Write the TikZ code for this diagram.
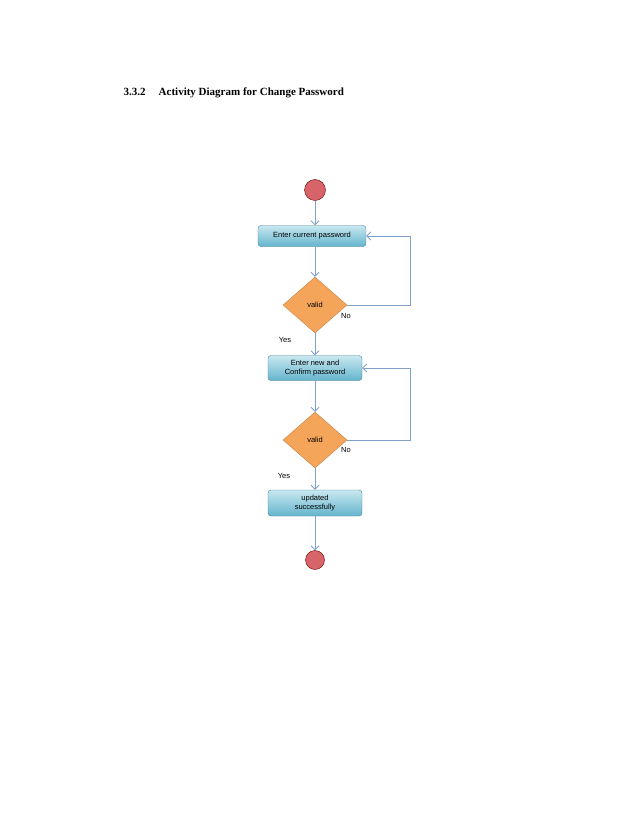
\documentclass[tikz,border=0pt]{standalone}
\usepackage{fontspec}
\setmainfont{Liberation Serif}
\newfontfamily\diag{Liberation Sans}
\usetikzlibrary{shapes.geometric,arrows.meta}
\definecolor{lineblue}{RGB}{130,160,200}
\definecolor{boxtop}{RGB}{200,232,240}
\definecolor{boxbot}{RGB}{100,180,205}
\definecolor{boxedge}{RGB}{70,130,150}
\definecolor{termfill}{RGB}{215,100,105}
\definecolor{decfill}{RGB}{245,165,90}
\begin{document}
\begin{tikzpicture}[x=1pt,y=-1pt,
  act/.style={draw=boxedge,rounded corners=3pt,top color=boxtop,bottom color=boxbot,font=\diag\fontsize{7.5}{8.5}\selectfont,align=center,inner sep=1pt},
  dec/.style={diamond,draw=decfill!80!black,fill=decfill,font=\diag\fontsize{7.5}{8.5}\selectfont,minimum width=64pt,minimum height=56pt,inner sep=0pt},
  term/.style={circle,draw=red!40!black,fill=termfill,minimum size=21pt,inner sep=0pt},
  flow/.style={draw=lineblue,thick,-{Straight Barb[length=4pt,width=8pt]}},
  lbl/.style={font=\diag\fontsize{7.5}{8.5}\selectfont}]
\useasboundingbox (0,0) rectangle (638,826);
\node[anchor=west,font=\bfseries\fontsize{11}{13}\selectfont] (title) at (120,93) {3.3.2\hspace{1.2em}Activity Diagram for Change Password};
\node[term] (start) at (315,190) {};
\node[act,minimum width=108pt,minimum height=21pt] (b1) at (312,236) {Enter current password};
\node[dec] (d1) at (315,305) {valid};
\node[act,minimum width=94pt,minimum height=25pt] (b2) at (315,368) {Enter new and\\Confirm password};
\node[dec] (d2) at (315,440) {valid};
\node[act,minimum width=94pt,minimum height=26pt] (b3) at (315,503) {updated\\successfully};
\node[term,minimum size=19pt] (end) at (315,560) {};
\draw[flow] (start) -- (start|-b1.north);
\draw[flow] (b1.south-|d1) -- (d1.north);
\draw[flow] (d1.south) -- (d1|-b2.north);
\draw[flow] (b2) -- (d2.north);
\draw[flow] (d2.south) -- (d2|-b3.north);
\draw[flow] (b3) -- (end);
\draw[flow] (d1.east) -- (410,305) |- (b1.east);
\draw[flow] (d2.east) -- (410,440) |- (b2.east);
\node[lbl] (n1) at (346,316) {No};
\node[lbl] (y1) at (285,340) {Yes};
\node[lbl] (n2) at (346,450) {No};
\node[lbl] (y2) at (284,476) {Yes};
\end{tikzpicture}
\end{document}
